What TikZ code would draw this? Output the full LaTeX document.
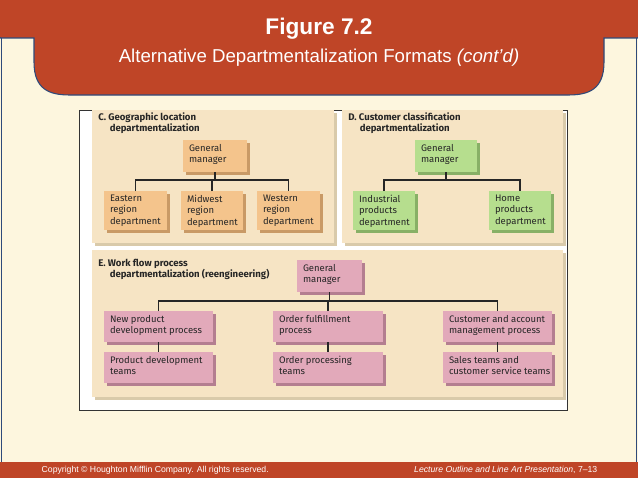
\documentclass[tikz,border=0pt]{standalone}
\usepackage{fontspec}
\setmainfont{Liberation Sans}
\newfontfamily\figfont{Fira Sans}
\begin{document}
\begin{tikzpicture}[x=0.75pt,y=-0.75pt]
\definecolor{brick}{HTML}{BF4527}
\definecolor{cream}{HTML}{FDF6DE}
\definecolor{navy}{HTML}{2F4A7A}
\definecolor{panel}{HTML}{F6E4C4}
\definecolor{panelsh}{HTML}{D9CAAA}
\definecolor{orangebox}{HTML}{F4C48C}
\definecolor{orangesh}{HTML}{C99A66}
\definecolor{greenbox}{HTML}{B6DE8E}
\definecolor{greensh}{HTML}{88B066}
\definecolor{pinkbox}{HTML}{E2A9BA}
\definecolor{pinksh}{HTML}{B47E90}
\tikzset{
 bx/.style={anchor=north west,inner sep=0pt,outer sep=0pt,font=\figfont\fontsize{7.1}{8.6}\selectfont,align=left,text=black!85},
 lbl/.style={anchor=north west,inner sep=0pt,font=\figfont\bfseries\fontsize{7.2}{8.4}\selectfont,align=left,text=black!85},
 link/.style={line width=1.3pt,black!85}
}
\useasboundingbox (0,0) rectangle (638,478);
\fill[cream] (0,0) rectangle (638,478);
\draw[navy,line width=1pt] (1.5,38) -- (1.5,462) (636.5,38) -- (636.5,462);
\filldraw[fill=brick,draw=navy,line width=0.8pt] (0,38)--(34,38)--(34,62) .. controls (34,90) and (50,95) .. (70,95) -- (568,95) .. controls (588,95) and (604,90) .. (604,62) -- (604,38) -- (638,38) -- (638,0) -- (0,0) -- cycle;
\fill[brick] (0,0) rectangle (638,37);
\node[text=white,font=\bfseries\fontsize{17}{20}\selectfont] (t1) at (319,29) {Figure 7.2};
\node[text=white,font=\fontsize{14}{17}\selectfont] (t2) at (319,58) {Alternative Departmentalization Formats \textit{(cont'd)}};
\fill[brick] (0,462) rectangle (638,478);
\node[text=white,font=\fontsize{6.5}{8}\selectfont,anchor=west] (c1) at (37,470) {Copyright \textcopyright{} Houghton Mifflin Company. All rights reserved.};
\node[text=white,font=\itshape\fontsize{6.5}{8}\selectfont,anchor=east] (c2) at (602,470) {Lecture Outline and Line Art Presentation\upshape, 7--13};
\filldraw[fill=white,draw=black!80,line width=0.6pt] (79,110) rectangle (567,410);
\fill[panelsh] (95,113) rectangle (337,246);
\fill[panel] (92,110) rectangle (334,243);
\fill[panelsh] (345,113) rectangle (566,246);
\fill[panel] (342,110) rectangle (563,243);
\fill[panelsh] (95,253) rectangle (566,400);
\fill[panel] (92,250) rectangle (563,397);
\node[lbl] (lc) at (98,112) {C.\ Geographic location\\\hspace*{1.2em}departmentalization};
\node[lbl] (ld) at (348,112) {D.\ Customer classification\\\hspace*{1.2em}departmentalization};
\node[lbl] (le) at (98,259) {E.\ Work flow process\\\hspace*{1.2em}departmentalization (reengineering)};
\foreach \n/\xa/\ya/\xb/\yb/\c/\t in {
 cg/183/140/247/172/orange/{General\\manager},
 c1/104/191/167/230/orange/{Eastern\\region\\department},
 c2/181/191/243/230/orange/{Midwest\\region\\department},
 c3/257/191/320/230/orange/{Western\\region\\department},
 dg/415/140/477/172/green/{General\\manager},
 d1/353/191/415/230/green/{Industrial\\products\\department},
 d2/489/191/551/230/green/{Home\\products\\department},
 eg/297/260/362/292/pink/{General\\manager},
 e1/104/311/213/342/pink/{New product\\development process},
 e2/273/311/383/342/pink/{Order fulfillment\\process},
 e3/443/311/552/342/pink/{Customer and account\\management process},
 f1/104/352/213/383/pink/{Product development\\teams},
 f2/273/352/383/383/pink/{Order processing\\teams},
 f3/443/352/552/383/pink/{Sales teams and\\customer service teams}}{
 \fill[\c sh] (\xa+3,\ya+3) rectangle (\xb+3,\yb+3);
 \fill[\c box] (\xa,\ya) rectangle (\xb,\yb);
 \coordinate (\n) at ({(\xa+\xb)/2},\ya);
 \coordinate (\n b) at ({(\xa+\xb)/2},\yb);
 \node[bx] (\n t) at (\xa+6,\ya+4) {\t};
}
\draw[link] (cgb) -- (215,180) (c1) |- (215,180) -| (c3) (c2) -- (c2|-0,180);
\draw[link] (dgb) -- (446,180) (d1) |- (446,180) -| (d2);
\draw[link] (egb) -- (329.5,301) (e1) |- (329.5,301) -| (e3) (e2) -- (e2|-0,301);
\draw[link] (e1b) -- (f1) (e2b) -- (f2) (e3b) -- (f3);
\end{tikzpicture}
\end{document}
